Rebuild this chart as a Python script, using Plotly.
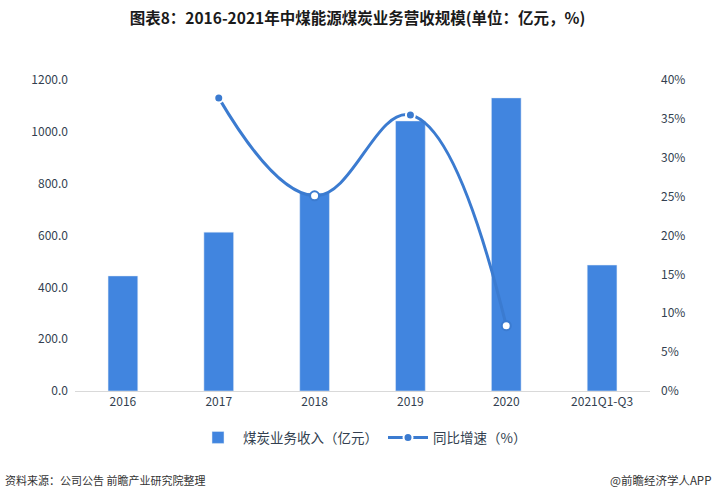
import plotly.graph_objects as go

categories = ["2016", "2017", "2018", "2019", "2020", "2021Q1-Q3"]
revenue = [444, 613, 764, 1042, 1131, 486]
growth_cats = ["2017", "2018", "2019", "2020"]
growth = [0.377, 0.251, 0.355, 0.084]

BAR = "#4185DF"
LINE = "#3B7BD0"
FONT = "Microsoft YaHei, Noto Sans CJK SC, sans-serif"

fig = go.Figure()
fig.add_trace(go.Bar(
    x=categories, y=revenue, name="煤炭业务收入（亿元）",
    marker=dict(color=BAR), width=0.31,
))
fig.add_trace(go.Scatter(
    x=growth_cats, y=growth, name="同比增速（%）", yaxis="y2",
    mode="lines+markers",
    line=dict(color=LINE, width=3, shape="spline", smoothing=1.2),
    marker=dict(size=9, color=[LINE, "white", LINE, "white"],
                line=dict(color=["white", LINE, "white", LINE], width=2)),
))

fig.update_layout(
    width=715, height=498,
    margin=dict(l=75, r=65, t=80, b=107),
    paper_bgcolor="white", plot_bgcolor="white",
    font=dict(family=FONT, size=12, color="#333F50"),
    title=dict(text="<b>图表8：2016-2021年中煤能源煤炭业务营收规模(单位：亿元，%)</b>",
               x=0.5, xanchor="center", y=0.962, yanchor="middle",
               font=dict(size=15.5, color="#1a1a1a", family="Noto Sans CJK SC, sans-serif")),
    xaxis=dict(type="category", categoryorder="array", categoryarray=categories,
               showline=True, linecolor="#D9D9D9", linewidth=1,
               showgrid=False, ticks="", tickfont=dict(size=12, color="#333F50")),
    yaxis=dict(range=[0, 1200], dtick=200, tickformat=".1f", showgrid=False,
               zeroline=False, showline=False, ticks="",
               tickfont=dict(size=12, color="#333F50"), ticklabelstandoff=6),
    yaxis2=dict(range=[0, 0.40], dtick=0.05, tickformat=".0%", overlaying="y",
                side="right", showgrid=False, zeroline=False, showline=False,
                ticks="", tickfont=dict(size=12, color="#333F50"), ticklabelstandoff=10),
    legend=dict(orientation="h", x=0.5, xanchor="center", y=-0.15, yanchor="middle",
                font=dict(size=13.5, color="#333F50"), itemwidth=40,
                traceorder="normal"),
    bargap=0.5,
)

fig.add_annotation(text="资料来源：公司公告 前瞻产业研究院整理", xref="paper", yref="paper",
                   x=-72/575, xanchor="left", y=-0.285, yanchor="middle", showarrow=False,
                   font=dict(size=11, color="#333333"))
fig.add_annotation(text="@前瞻经济学人APP", xref="paper", yref="paper",
                   x=1 + 63/575, xanchor="right", y=-0.285, yanchor="middle", showarrow=False,
                   font=dict(size=11.5, color="#333333"))

fig.write_html("out.html")
